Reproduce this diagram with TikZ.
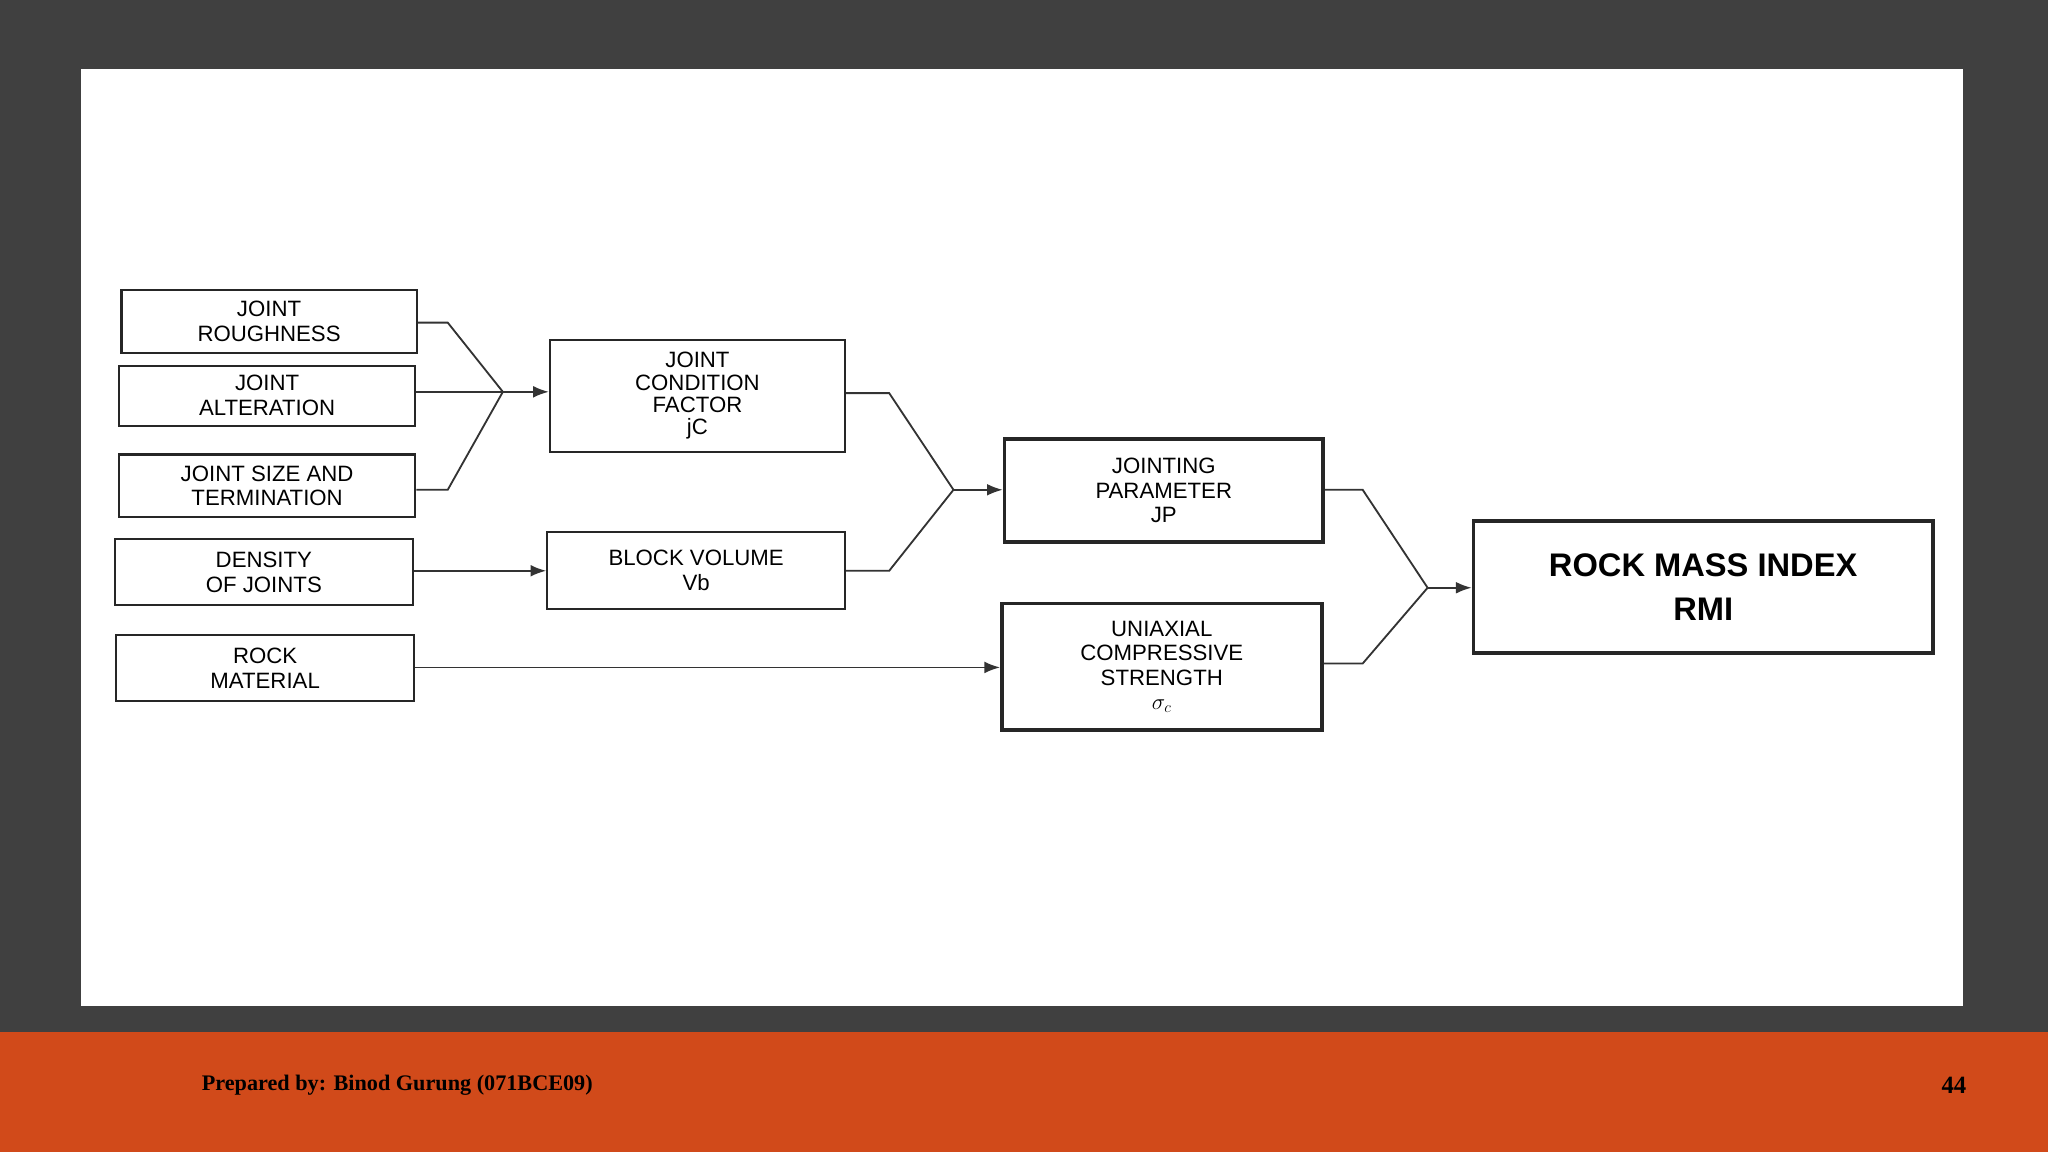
\documentclass[tikz,border=0pt]{standalone}
\usepackage{fontspec}
\setmainfont{Liberation Sans}
\newfontfamily\footfont{Liberation Serif}
\usetikzlibrary{arrows.meta}
\definecolor{bgdark}{HTML}{404040}
\definecolor{footor}{HTML}{D14A1A}
\tikzset{
 bx/.style={draw=black!85,line width=1.6pt,align=center,font=\fontsize{17}{17}\selectfont,inner sep=0pt},
 bxb/.style={bx,line width=2.6pt},
 ln/.style={draw=black!80,line width=1.4pt},
 ar/.style={ln,-{Latex[length=12pt,width=9pt]}}
}
\begin{document}
\begin{tikzpicture}[x=1pt,y=-1pt]
\useasboundingbox (0,0) rectangle (1568,882);
\fill[bgdark] (0,0) rectangle (1568,882);
\fill[white] (62,53) rectangle (1503,770);
\fill[footor] (0,790) rectangle (1568,882);
\node[anchor=west,font=\footfont\bfseries\fontsize{17}{17}\selectfont] (ft) at (151,831) {Prepared by: Binod Gurung (071BCE09)};
\node[font=\footfont\bfseries\fontsize{19}{19}\selectfont] (pg) at (1496,831) {44};
% boxes
\node[bx,minimum width=226,minimum height=48] (jr) at (206,246) {JOINT\\[2pt]ROUGHNESS};
\node[bx,minimum width=227,minimum height=46] (ja) at (204.5,303) {JOINT\\[2pt]ALTERATION};
\node[bx,minimum width=227,minimum height=48] (js) at (204.5,372) {JOINT SIZE AND\\[2pt]TERMINATION};
\node[bx,minimum width=228,minimum height=50] (dj) at (202,438) {DENSITY\\[2pt]OF JOINTS};
\node[bx,minimum width=228,minimum height=51] (rm) at (203,511.5) {ROCK\\[2pt]MATERIAL};
\node[bx,minimum width=226,minimum height=86] (jc) at (534,303) {JOINT\\CONDITION\\FACTOR\\jC};
\node[bx,minimum width=228,minimum height=59] (bv) at (533,436.5) {BLOCK VOLUME\\[2pt]Vb};
\node[bxb,minimum width=244,minimum height=79] (jp) at (891,375.5) {JOINTING\\[2pt]PARAMETER\\[2pt]JP};
\node[bxb,minimum width=245,minimum height=97] (uc) at (889.5,510.5) {UNIAXIAL\\[2pt]COMPRESSIVE\\[2pt]STRENGTH\\[1pt]$\sigma_c$};
\node[bxb,minimum width=352,minimum height=101,font=\bfseries\fontsize{25}{25}\selectfont] (rmi) at (1304,449.5) {ROCK MASS INDEX\\[8pt]RMI};
% junctions
\coordinate (j1) at (385,300);
\coordinate (j2) at (730,375);
\coordinate (j3) at (1093,450);
\draw[ln] (jr.east|-0,247) -- ++(23,0) -- (j1);
\draw[ln] (ja.east|-j1) -- (j1);
\draw[ln] (js.east|-0,375) -- ++(24,0) -- (j1);
\draw[ar] (j1) -- (jc.west|-j1);
\draw[ar] (dj.east|-0,437) -- (bv.west|-0,437);
\draw[ln] (jc.east|-0,301) -- ++(33,0) -- (j2);
\draw[ln] (bv.east|-0,437) -- ++(33,0) -- (j2);
\draw[ar] (j2) -- (jp.west|-j2);
\draw[ar] (rm.east|-0,511) -- (uc.west|-0,511);
\draw[ln] (jp.east|-0,375) -- ++(29,0) -- (j3);
\draw[ln] (uc.east|-0,508) -- ++(30,0) -- (j3);
\draw[ar] (j3) -- (rmi.west|-j3);
\end{tikzpicture}
\end{document}
